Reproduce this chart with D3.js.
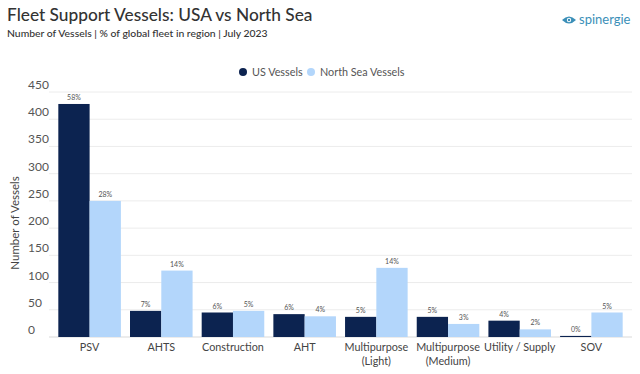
<!DOCTYPE html>
<html>
<head>
<meta charset="utf-8">
<script src="https://cdn.jsdelivr.net/npm/d3@7"></script>
<style>
  body { margin: 0; background: #fff; }
  svg { font-family: Lato, "Noto Sans", sans-serif; }
</style>
</head>
<body>
<div id="chart"></div>
<script>
// Data
const categories = ["PSV", "AHTS", "Construction", "AHT", "Multipurpose\n(Light)", "Multipurpose\n(Medium)", "Utility / Supply", "SOV"];
const usVessels = [428, 48, 45, 42, 37, 37, 30, 2];
const northSeaVessels = [250, 122, 48, 38, 127, 24, 14, 45];
const usShare = ["58%", "7%", "6%", "6%", "5%", "5%", "4%", "0%"];
const northSeaShare = ["28%", "14%", "5%", "4%", "14%", "3%", "2%", "5%"];
const seriesNames = ["US Vessels", "North Sea Vessels"];
const yTicks = [0, 50, 100, 150, 200, 250, 300, 350, 400, 450];

const width = 640, height = 374;
const margin = {top: 92, bottom: 37, left: 49, right: 8};
const colors = ["#0c2350", "#b3d6fb"];

const svg = d3.select("#chart")
    .append("svg")
    .attr("width", width)
    .attr("height", height);

// Title block
svg.append("text")
    .attr("x", 7).attr("y", 21)
    .attr("font-size", 17.3).attr("font-weight", 500)
    .attr("fill", "#333")
    .text("Fleet Support Vessels: USA vs North Sea");

svg.append("text")
    .attr("x", 7).attr("y", 37)
    .attr("font-size", 10.4).attr("font-weight", 500)
    .attr("fill", "#333")
    .text("Number of Vessels | % of global fleet in region | July 2023");

// Logo
const logo = svg.append("g").attr("transform", "translate(569,20)");
logo.append("path")
    .attr("d", "M-7,0 Q0,-7 7,0 Q0,7 -7,0 Z")
    .attr("fill", "#3b8fb8");
logo.append("circle").attr("r", 2.2).attr("fill", "#fff");
logo.append("circle").attr("r", 1.2).attr("fill", "#3b8fb8");
logo.append("text")
    .attr("x", 10).attr("y", 4)
    .attr("font-size", 13)
    .attr("fill", "#3b8fb8")
    .text("spinergie");

// Scales
const x0 = d3.scaleBand()
    .domain(categories)
    .range([margin.left, width - margin.right])
    .paddingInner(0.127)
    .paddingOuter(0.13);

const x1 = d3.scaleBand()
    .domain(seriesNames)
    .range([0, x0.bandwidth()]);

const y = d3.scaleLinear()
    .domain([0, 450])
    .range([height - margin.bottom, margin.top]);

// Gridlines
svg.append("g")
    .selectAll("line")
    .data(yTicks)
    .enter().append("line")
    .attr("x1", margin.left)
    .attr("x2", width - margin.right)
    .attr("y1", d => y(d))
    .attr("y2", d => y(d))
    .attr("stroke", d => d === 0 ? "#d9d9d9" : "#ececec")
    .attr("stroke-width", 1);

// Y axis labels (left aligned)
svg.append("g")
    .selectAll("text")
    .data(yTicks)
    .enter().append("text")
    .attr("x", 28)
    .attr("y", d => y(d) - 3)
    .attr("font-size", 12)
    .attr("fill", "#555")
    .text(d => d);

svg.append("text")
    .attr("transform", "rotate(-90)")
    .attr("x", -223)
    .attr("y", 19)
    .attr("text-anchor", "middle")
    .attr("font-size", 11.5)
    .attr("fill", "#444")
    .text("Number of Vessels");

// Bars
const rows = categories.map((c, i) => ({
    cat: c,
    vals: [
        {name: seriesNames[0], v: usVessels[i], pct: usShare[i]},
        {name: seriesNames[1], v: northSeaVessels[i], pct: northSeaShare[i]}
    ]
}));

const groups = svg.append("g")
    .selectAll("g")
    .data(rows)
    .enter().append("g")
    .attr("transform", d => `translate(${x0(d.cat)},0)`);

groups.selectAll("rect")
    .data(d => d.vals)
    .enter().append("rect")
    .attr("x", d => x1(d.name))
    .attr("y", d => y(d.v))
    .attr("width", x1.bandwidth())
    .attr("height", d => y(0) - y(d.v))
    .attr("fill", (d, i) => colors[i]);

groups.selectAll("text.pct")
    .data(d => d.vals)
    .enter().append("text")
    .attr("class", "pct")
    .attr("x", d => x1(d.name) + x1.bandwidth() / 2)
    .attr("y", d => y(d.v) - 4)
    .attr("text-anchor", "middle")
    .attr("font-size", 7)
    .attr("fill", "#555")
    .text(d => d.pct);

// X labels
const xLabels = svg.append("g")
    .selectAll("text")
    .data(categories)
    .enter().append("text")
    .attr("x", d => x0(d) + x0.bandwidth() / 2)
    .attr("y", 351)
    .attr("text-anchor", "middle")
    .attr("font-size", 10.8)
    .attr("fill", "#444");

xLabels.selectAll("tspan")
    .data(d => d.split("\n"))
    .enter().append("tspan")
    .attr("x", function() { return d3.select(this.parentNode).attr("x"); })
    .attr("dy", (d, i) => i === 0 ? 0 : 14)
    .text(d => d);

// Legend
const legend = svg.append("g")
    .selectAll("g")
    .data(seriesNames)
    .enter().append("g")
    .attr("transform", (d, i) => `translate(${i === 0 ? 243 : 311},72)`);

legend.append("circle")
    .attr("r", 4)
    .attr("fill", (d, i) => colors[i]);

legend.append("text")
    .attr("x", 9)
    .attr("y", 4)
    .attr("font-size", 10.8)
    .attr("fill", "#555")
    .text(d => d);
</script>
</body>
</html>
